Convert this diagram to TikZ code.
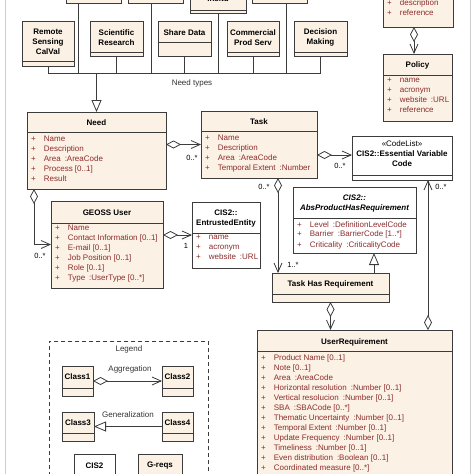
\documentclass[tikz,border=0pt]{standalone}
\usepackage{fontspec}
\setmainfont{Liberation Sans}
\usepackage{tikz}
\usetikzlibrary{arrows.meta}
\usetikzlibrary{positioning}

\definecolor{cream}{RGB}{252,241,229}
\definecolor{edge}{RGB}{60,60,60}
\definecolor{attrred}{RGB}{140,45,45}
\definecolor{framegray}{RGB}{205,205,205}

\newcommand{\pub}{+\hspace{8pt}}
\newcommand{\ty}{\enspace:}

\begin{document}
\begin{tikzpicture}[x=1pt, y=-1pt,
    font=\fontsize{8}{10}\selectfont,
    cls/.style={draw=edge, fill=cream, line width=0.8pt, anchor=north west, inner sep=0pt, outer sep=0pt},
    cis/.style={cls, fill=white},
    hdr/.style={font=\fontsize{8}{10}\selectfont\bfseries, align=center, inner sep=0pt},
    ital/.style={font=\fontsize{8}{10}\selectfont\bfseries\itshape},
    attr/.style={text=attrred, align=left, anchor=north west, inner sep=0pt, execute at begin node=\strut},
    sep/.style={draw=edge, line width=0.8pt},
    lbl/.style={text=black!80, inner sep=0pt},
    mult/.style={font=\fontsize{7.5}{9}\selectfont, inner sep=0pt},
    link/.style={draw=edge, line width=0.8pt},
    agg/.style={link, {Diamond[open, length=15pt, width=8pt]}-{Straight Barb[length=9pt, width=8pt]}},
    gen/.style={link, -{Triangle[open, length=12pt, width=10pt]}}]

  \useasboundingbox (0,0) rectangle (474,474);
  \clip (0,0) rectangle (474,474);
  \fill[white] (0,0) rectangle (474,474);
  \draw[framegray, line width=1pt] (5,0) -- (5,474) (470,0) -- (470,474);

  % kinds of need, top rows
  \node[cls, minimum width=55, minimum height=33] (kind1) at (66,-30) {};
  \node[cls, minimum width=55, minimum height=33] (kind2) at (128,-30) {};
  \node[cls, minimum width=56, minimum height=43] (insitu) at (190,-30) {};
  \node[hdr] at (218,-1) {Insitu};
  \draw[sep] ([yshift=3pt]insitu.south west) -- ([yshift=3pt]insitu.south east);
  \node[cls, minimum width=55, minimum height=33] (kind4) at (252,-30) {};

  \node[cls, minimum width=52, minimum height=45] (rs) at (22,21) {};
  \node[hdr] at ([yshift=-21pt]rs.north) {Remote\\Sensing\\CalVal};
  \draw[sep] ([yshift=5pt]rs.south west) -- ([yshift=5pt]rs.south east);
  \node[cls, minimum width=53, minimum height=35] (sr) at (90,21) {};
  \node[hdr] at ([yshift=-16.5pt]sr.north) {Scientific\\Research};
  \draw[sep] ([yshift=4pt]sr.south west) -- ([yshift=4pt]sr.south east);
  \node[cls, minimum width=53, minimum height=35] (sd) at (158,21) {};
  \node[hdr] at ([yshift=-11.5pt]sd.north) {Share Data};
  \draw[sep] ([yshift=14pt]sd.south west) -- ([yshift=14pt]sd.south east);
  \node[cls, minimum width=52, minimum height=35] (cp) at (227,21) {};
  \node[hdr] at ([yshift=-16.5pt]cp.north) {Commercial\\Prod Serv};
  \draw[sep] ([yshift=4pt]cp.south west) -- ([yshift=4pt]cp.south east);
  \node[cls, minimum width=53, minimum height=35] (dm) at (294,21) {};
  \node[hdr] at ([yshift=-16.5pt]dm.north) {Decision\\Making};
  \draw[sep] ([yshift=4pt]dm.south west) -- ([yshift=4pt]dm.south east);

  \coordinate (bus) at (48,73);
  \draw[link] (78,0 |- kind1.south) -- (78,0 |- bus)
              (151,0 |- kind2.south) -- (151,0 |- bus)
              (insitu.south) -- (insitu.south |- bus)
              (286,0 |- kind4.south) -- (286,0 |- bus);
  \draw[link] (rs.south) -- (rs.south |- bus) (sr.south) -- (sr.south |- bus)
              (sd.south) -- (sd.south |- bus) (cp.south) -- (cp.south |- bus)
              (dm.south) -- (dm.south |- bus);
  \draw[link] (rs.south |- bus) -- (dm.south |- bus);
  \node[lbl] (needtypes) at (192,83) {Need types};

  % right column
  \node[cls, minimum width=70, minimum height=67] (upper) at (383,-40) {};
  \node[attr] at ([shift={(4,40)}]upper.north west) {\pub description\\\pub reference};
  \node[cls, minimum width=69, minimum height=67] (policy) at (383,54) {};
  \node[hdr] at ([yshift=-11.5pt]policy.north) {Policy};
  \draw[sep] ([yshift=-21pt]policy.north west) -- ([yshift=-21pt]policy.north east);
  \node[attr] at ([shift={(4,24)}]policy.north west) {\pub name\\\pub acronym\\\pub website\ty URL\\\pub reference};

  % need and task
  \node[cls, minimum width=139, minimum height=77] (need) at (27,112) {};
  \node[hdr] at ([yshift=-11pt]need.north) {Need};
  \draw[sep] ([yshift=-20pt]need.north west) -- ([yshift=-20pt]need.north east);
  \node[attr] at ([shift={(4,24)}]need.north west) {\pub Name\\\pub Description\\\pub Area\ty AreaCode\\\pub Process [0..1]\\\pub Result};

  \node[cls, minimum width=116, minimum height=67] (task) at (201,111) {};
  \node[hdr] at ([yshift=-11pt]task.north) {Task};
  \draw[sep] ([yshift=-20pt]task.north west) -- ([yshift=-20pt]task.north east);
  \node[attr] at ([shift={(4,24)}]task.north west) {\pub Name\\\pub Description\\\pub Area\ty AreaCode\\\pub Temporal Extent\ty Number};

  \node[cis, minimum width=100, minimum height=44] (code) at (352,136) {};
  \node[hdr] at ([yshift=-17.5pt]code.north) {{\mdseries «CodeList»}\\CIS2::Essential Variable\\Code};
  \draw[sep] ([yshift=5pt]code.south west) -- ([yshift=5pt]code.south east);

  \node[cis, minimum width=123, minimum height=66] (abs) at (293,187) {};
  \node[hdr, ital] at ([yshift=-16.5pt]abs.north) {CIS2::\\AbsProductHasRequirement};
  \draw[sep] ([yshift=-31pt]abs.north west) -- ([yshift=-31pt]abs.north east);
  \node[attr] at ([shift={(4,34)}]abs.north west) {\pub Level\ty DefinitionLevelCode\\\pub Barrier\ty BarrierCode [1..*]\\\pub Criticality\ty CriticalityCode};

  % users
  \node[cls, minimum width=112, minimum height=87] (geoss) at (51,201) {};
  \node[hdr] at ([yshift=-12pt]geoss.north) {GEOSS User};
  \draw[sep] ([yshift=-22pt]geoss.north west) -- ([yshift=-22pt]geoss.north east);
  \node[attr] at ([shift={(4,24)}]geoss.north west) {\pub Name\\\pub Contact Information [0..1]\\\pub E-mail [0..1]\\\pub Job Position [0..1]\\\pub Role [0..1]\\\pub Type\ty UserType [0..*]};

  \node[cis, minimum width=68, minimum height=66] (ent) at (192,202) {};
  \node[hdr] at ([yshift=-16.5pt]ent.north) {CIS2::\\EntrustedEntity};
  \draw[sep] ([yshift=-31pt]ent.north west) -- ([yshift=-31pt]ent.north east);
  \node[attr] at ([shift={(4,33)}]ent.north west) {\pub name\\\pub acronym\\\pub website\ty URL};

  % requirements
  \node[cls, minimum width=117, minimum height=29] (thr) at (272,273) {};
  \node[hdr] at ([yshift=-11.5pt]thr.north) {Task Has Requirement};
  \draw[sep] ([yshift=-21pt]thr.north west) -- ([yshift=-21pt]thr.north east);

  \node[cls, minimum width=195, minimum height=200] (ur) at (257,330) {};
  \node[hdr] at ([yshift=-12pt]ur.north) {UserRequirement};
  \draw[sep] ([yshift=-21pt]ur.north west) -- ([yshift=-21pt]ur.north east);
  \node[attr] at ([shift={(4,24)}]ur.north west) {\pub Product Name [0..1]\\\pub Note [0..1]\\\pub Area\ty AreaCode\\\pub Horizontal resolution\ty Number [0..1]\\\pub Vertical resolucion\ty Number [0..1]\\\pub SBA\ty SBACode [0..*]\\\pub Thematic Uncertainty\ty Number [0..1]\\\pub Temporal Extent\ty Number [0..1]\\\pub Update Frequency\ty Number [0..1]\\\pub Timeliness\ty Number [0..1]\\\pub Even distribution\ty Boolean [0..1]\\\pub Coordinated measure [0..*]};

  % connectors
  \draw[gen] (need.north |- bus) -- (need.north);
  \draw[agg] (414,0 |- upper.south) -- (414,0 |- policy.north);
  \draw[agg] (need.east |- task.west) -- (task.west);
  \draw[agg] (task.east |- 0,155) -- (code.west |- 0,155);
  \draw[agg] ([xshift=7pt]need.south west) |- (geoss.west);
  \draw[agg] (geoss.east |- ent.west) -- (ent.west);
  \draw[agg] (278,0 |- task.south) -- (278,0 |- thr.north);
  \draw[gen] (374,0 |- thr.north) -- (374,0 |- abs.south);
  \draw[agg] (thr.south) -- (thr.south |- ur.north);
  \draw[agg] (428,0 |- ur.north) -- (428,0 |- code.south);

  \node[mult] at (192,158) {0..*};
  \node[mult] at (340,166) {0..*};
  \node[mult] at (264,187) {0..*};
  \node[mult] at (293,265) {1..*};
  \node[mult] at (441,187) {0..*};
  \node[mult] at (40,256) {0..*};
  \node[mult] at (186,246) {1};

  % legend
  \node[draw=edge, dashed, dash pattern=on 4pt off 3pt, line width=0.8pt, anchor=north west,
        minimum width=159, minimum height=160, inner sep=0pt] (legend) at (49,341) {};
  \node[lbl, below=4pt of legend.north] {Legend};
  \node[cls, minimum width=31, minimum height=30] (class1) at (62,366) {};
  \node[hdr] at ([yshift=-11pt]class1.north) {Class1};
  \draw[sep] ([yshift=-22pt]class1.north west) -- ([yshift=-22pt]class1.north east);
  \node[cls, minimum width=31, minimum height=30] (class2) at (162,366) {};
  \node[hdr] at ([yshift=-11pt]class2.north) {Class2};
  \draw[sep] ([yshift=-22pt]class2.north west) -- ([yshift=-22pt]class2.north east);
  \draw[agg] (class1) -- (class2);
  \node[lbl] at (130,369) {Aggregation};
  \node[cls, minimum width=32, minimum height=29] (class3) at (62,412) {};
  \node[hdr] at ([yshift=-11pt]class3.north) {Class3};
  \draw[sep] ([yshift=-21pt]class3.north west) -- ([yshift=-21pt]class3.north east);
  \node[cls, minimum width=31, minimum height=29] (class4) at (162,412) {};
  \node[hdr] at ([yshift=-11pt]class4.north) {Class4};
  \draw[sep] ([yshift=-21pt]class4.north west) -- ([yshift=-21pt]class4.north east);
  \draw[gen] (class4) -- (class3);
  \node[lbl] at (128,415) {Generalization};
  \node[cis, minimum width=41, minimum height=40] (cislegend) at (74,454) {};
  \node[hdr] at ([yshift=-12pt]cislegend.north) {CIS2};
  \node[cls, minimum width=44, minimum height=40] (greqs) at (138,454) {};
  \node[hdr] at ([yshift=-12pt]greqs.north) {G-reqs};
\end{tikzpicture}
\end{document}
